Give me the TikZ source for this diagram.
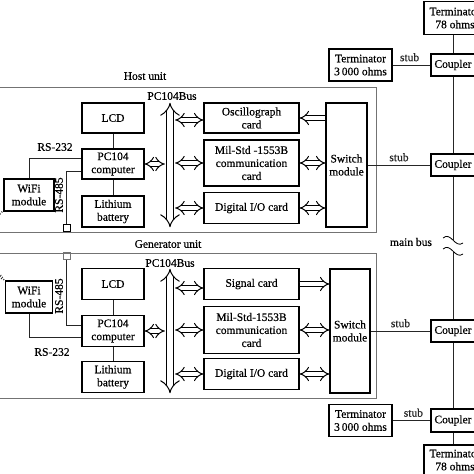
\documentclass[tikz,border=0pt]{standalone}
\usepackage{fontspec}
\setmainfont{Liberation Serif}[FakeBold=0.5]
\usetikzlibrary{positioning,arrows.meta,calc}

\begin{document}
\begin{tikzpicture}[
  x=1pt, y=-1pt,
  font=\fontsize{11.5}{13}\selectfont,
  box/.style={draw, line width=1.1pt, align=center, inner sep=1pt},
  unitbox/.style={draw, black!55, line width=1pt},
  wire/.style={line width=0.8pt, black!85},
  hol/.style={double, double distance=4pt, line width=1pt, {Implies}-{Implies}},
  holr/.style={double, double distance=4pt, line width=1pt, -{Implies}},
  holbus/.style={double, double distance=6pt, line width=1pt, {Implies}-{Implies}},
  busbox/.style={inner sep=0pt, minimum width=10pt},
  sockbox/.style={draw, line width=0.9pt, minimum size=7pt, inner sep=0pt},
  wave/.style={line width=0.8pt}
]
\useasboundingbox (0,0) rectangle (474,474);
\clip (0,0) rectangle (474,474);

% main bus, top end
\node[box, minimum width=62pt, minimum height=33pt] (termTa) at (455,18) {Terminator\\78 ohms};
\node[box, minimum width=44pt, minimum height=22pt] (cplT) at (453,65) {Coupler};
\node[box, minimum width=63pt, minimum height=32pt] (termTb) at (360.5,65) {Terminator\\3\,000 ohms};
\draw[wire] (termTb) -- node[above, pos=0.45] {stub} (cplT);

% host unit
\draw[unitbox] (-5,87) rectangle (376,232);
\node (hostlbl) at (145,76) {Host unit};
\node (busHlbl) at (172,96) {PC104Bus};
\node[box, minimum width=62pt, minimum height=30pt] (lcdH) at (113,118) {LCD};
\node[box, minimum width=62pt, minimum height=30pt] (pcH) at (113,164) {PC104\\computer};
\node[box, minimum width=62pt, minimum height=31pt] (batH) at (113,211.5) {Lithium\\battery};
\node[box, minimum width=50pt, minimum height=32pt] (wifiH) at (29,195) {WiFi\\module};
\node[box, minimum width=95pt, minimum height=30pt] (oscH) at (251.5,118) {Oscillograph\\card};
\node[box, minimum width=95pt, minimum height=46pt] (milH) at (251.5,163) {Mil-Std -1553B\\communication\\card};
\node[box, minimum width=95pt, minimum height=31pt] (dioH) at (251.5,208) {Digital I/O card};
\node[box, minimum width=41pt, minimum height=124pt] (swH) at (346.5,165) {Switch\\module};
\node[busbox, minimum height=124pt] (busH) at (170,165) {};
\node[sockbox] (sockH) at (66.5,227.5) {};
\node[box, minimum width=44pt, minimum height=22pt] (cplH) at (453,165) {Coupler};
\node (rs232H) at (55,147) {RS-232};
\node[rotate=90] (rs485H) at (59,195) {RS-485};

\draw[wire] (lcdH) -- (pcH) -- (batH);
\draw[wire] (wifiH.north) |- ([yshift=6pt]pcH.west);
\draw[wire] (sockH.north) |- ([yshift=-7pt]pcH.west);
\draw[holbus] (busH.north) -- (busH.south);
\draw[hol] (pcH.east) -- (pcH.east -| busH.west);
\draw[hol] ([yshift=-2pt]busH.east |- oscH) -- ([yshift=-2pt]oscH.west);
\draw[hol] (busH.east |- milH) -- (milH.west);
\draw[hol] (busH.east |- dioH) -- (dioH.west);
\draw[holr] (swH.west |- oscH) -- (oscH.east);
\draw[hol] (milH.east) -- (milH.east -| swH.west);
\draw[hol] (dioH.east) -- (dioH.east -| swH.west);
\draw[wire] (swH) -- node[above] {stub} (cplH);
% wireless waves
\foreach \r in {3,5.5,8}
  \draw[wire] ($(wifiH.south west)+(1,-1)$) ++(135:\r) arc[start angle=135, end angle=165, radius=\r];

% generator unit
\draw[unitbox] (-5,253) rectangle (376,398);
\node (genlbl) at (168,244) {Generator unit};
\node (busGlbl) at (170,263) {PC104Bus};
\node[box, minimum width=62pt, minimum height=31pt] (lcdG) at (113,284) {LCD};
\node[box, minimum width=62pt, minimum height=31pt] (pcG) at (113,331) {PC104\\computer};
\node[box, minimum width=62pt, minimum height=31pt] (batG) at (113,377) {Lithium\\battery};
\node[box, minimum width=47pt, minimum height=32pt] (wifiG) at (29,297) {WiFi\\module};
\node[box, minimum width=95pt, minimum height=31pt] (sigG) at (251.5,284) {Signal card};
\node[box, minimum width=95pt, minimum height=47pt] (milG) at (251.5,330) {Mil-Std-1553B\\communication\\card};
\node[box, minimum width=95pt, minimum height=31pt] (dioG) at (251.5,374) {Digital I/O card};
\node[box, minimum width=40pt, minimum height=124pt] (swG) at (350,331) {Switch\\module};
\node[busbox, minimum height=124pt] (busG) at (170,331) {};
\node[sockbox, black!55] (sockG) at (66.5,256) {};
\node[box, minimum width=44pt, minimum height=22pt] (cplG) at (453,331) {Coupler};
\node (rs232G) at (52,352) {RS-232};
\node[rotate=90] (rs485G) at (59,296) {RS-485};

\draw[wire] (lcdG) -- (pcG) -- (batG);
\draw[wire] (wifiG.south) |- ([yshift=-6pt]pcG.west);
\draw[wire] (sockG.south) |- ([yshift=6pt]pcG.west);
\draw[holbus] (busG.north) -- (busG.south);
\draw[hol] (pcG.east) -- (pcG.east -| busG.west);
\draw[hol] ([yshift=-4pt]busG.east |- sigG) -- ([yshift=-4pt]sigG.west);
\draw[hol] (busG.east |- milG) -- (milG.west);
\draw[hol] (busG.east |- dioG) -- (dioG.west);
\draw[holr] (sigG.east) -- (sigG.east -| swG.west);
\draw[hol] (milG.east) -- (milG.east -| swG.west);
\draw[hol] (dioG.east) -- (dioG.east -| swG.west);
\draw[wire] (swG) -- node[above] {stub} (cplG);
\foreach \r in {3,5.5,8}
  \draw[wire] ($(wifiG.north west)+(1,1)$) ++(205:\r) arc[start angle=205, end angle=235, radius=\r];

% main bus with break
\coordinate (brkA) at (453,240);
\coordinate (brkB) at (453,252);
\node (mainlbl) at (411,242) {main bus};
\draw[wire] (termTa.south -| cplT) -- (cplT);
\draw[wire] (cplT) -- (cplH);
\draw[wire] (cplH) -- (brkA);
\draw[wire] (brkB) -- (cplG);
\draw[wave] (443,238) .. controls (451,231) and (455,249) .. (463,243);
\draw[wave] (443,249) .. controls (451,242) and (455,260) .. (463,254);

% main bus, bottom end
\node[box, minimum width=44pt, minimum height=23pt] (cplB) at (453,420.5) {Coupler};
\node[box, minimum width=63pt, minimum height=32pt] (termBb) at (360.5,420.5) {Terminator\\3\,000 ohms};
\node[box, minimum width=62pt, minimum height=30pt] (termBa) at (455,460) {Terminator\\78 ohms};
\draw[wire] (termBb) -- node[above, pos=0.55] {stub} (cplB);
\draw[wire] (cplG) -- (cplB);
\draw[wire] (cplB) -- (termBa.north -| cplB);
\end{tikzpicture}
\end{document}
